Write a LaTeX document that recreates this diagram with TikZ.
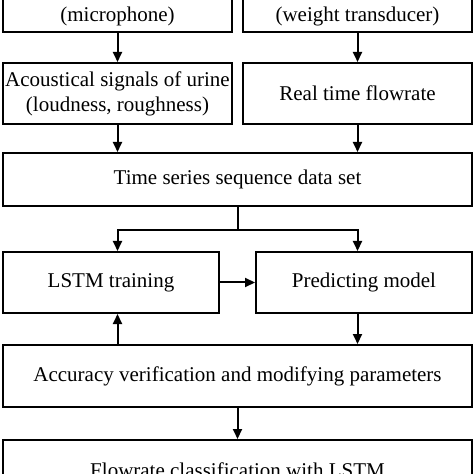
\documentclass[tikz,border=0pt]{standalone}
\usepackage{fontspec}
\setmainfont{Liberation Serif}
\usetikzlibrary{arrows.meta, positioning}

\begin{document}
\begin{tikzpicture}[x=0.5pt, y=-0.5pt,
          cbox/.style={rectangle, draw=black, line width=1pt,
                        minimum height=30.5pt, minimum width=114.5pt, inner sep=0pt,
                        font=\fontsize{10.5}{12.5}\selectfont, align=center},
          topbox/.style={cbox, anchor=south, text depth=5pt, text height=25.5pt},
          widebox/.style={cbox, minimum width=234.5pt},
          halfbox/.style={cbox, minimum width=108pt},
          arr/.style={-{Triangle[length=5pt, width=4.5pt]}, line width=1pt}
        ]
          \useasboundingbox (0,0) rectangle (474,474);
          \node[topbox] (mic) at (117.5,33) {(microphone)};
          \node[topbox] (weight) at (357.5,33) {(weight transducer)};
          \node[cbox] (acoustic) at (117.5,93.5) {Acoustical signals of urine\\(loudness, roughness)};
          \node[cbox] (flowrate) at (357.5,93.5) {Real time flowrate};
          \node[widebox, minimum height=26.5pt] (series) at (237.5,179.5) {Time series sequence data set};
          \node[halfbox] (train) at (111,282.5) {LSTM training};
          \node[halfbox] (predict) at (364,282.5) {Predicting model};
          \node[widebox, minimum height=31pt] (verify) at (237.5,376) {Accuracy verification and modifying parameters};
          \node[widebox] (classify) at (237.5,470.5) {Flowrate classification with LSTM};
          \draw[arr] (mic) -- (acoustic); \draw[arr] (weight) -- (flowrate);
          \draw[arr] (acoustic.south) -- (acoustic.south |- series.north);
          \draw[arr] (flowrate.south) -- (flowrate.south |- series.north);
          \draw[line width=1pt] (series.south) -- ++(0,23) coordinate (split);
          \draw[arr] (split) -| (acoustic.south |- train.north);
          \draw[arr] (split) -| (flowrate.south |- predict.north);
          \draw[arr] (train) -- (predict);
          \draw[arr] (acoustic.south |- verify.north) -- (acoustic.south |- train.south);
          \draw[arr] (flowrate.south |- predict.south) -- (flowrate.south |- verify.north);
          \draw[arr] (verify) -- (classify);
        \end{tikzpicture}
\end{document}
